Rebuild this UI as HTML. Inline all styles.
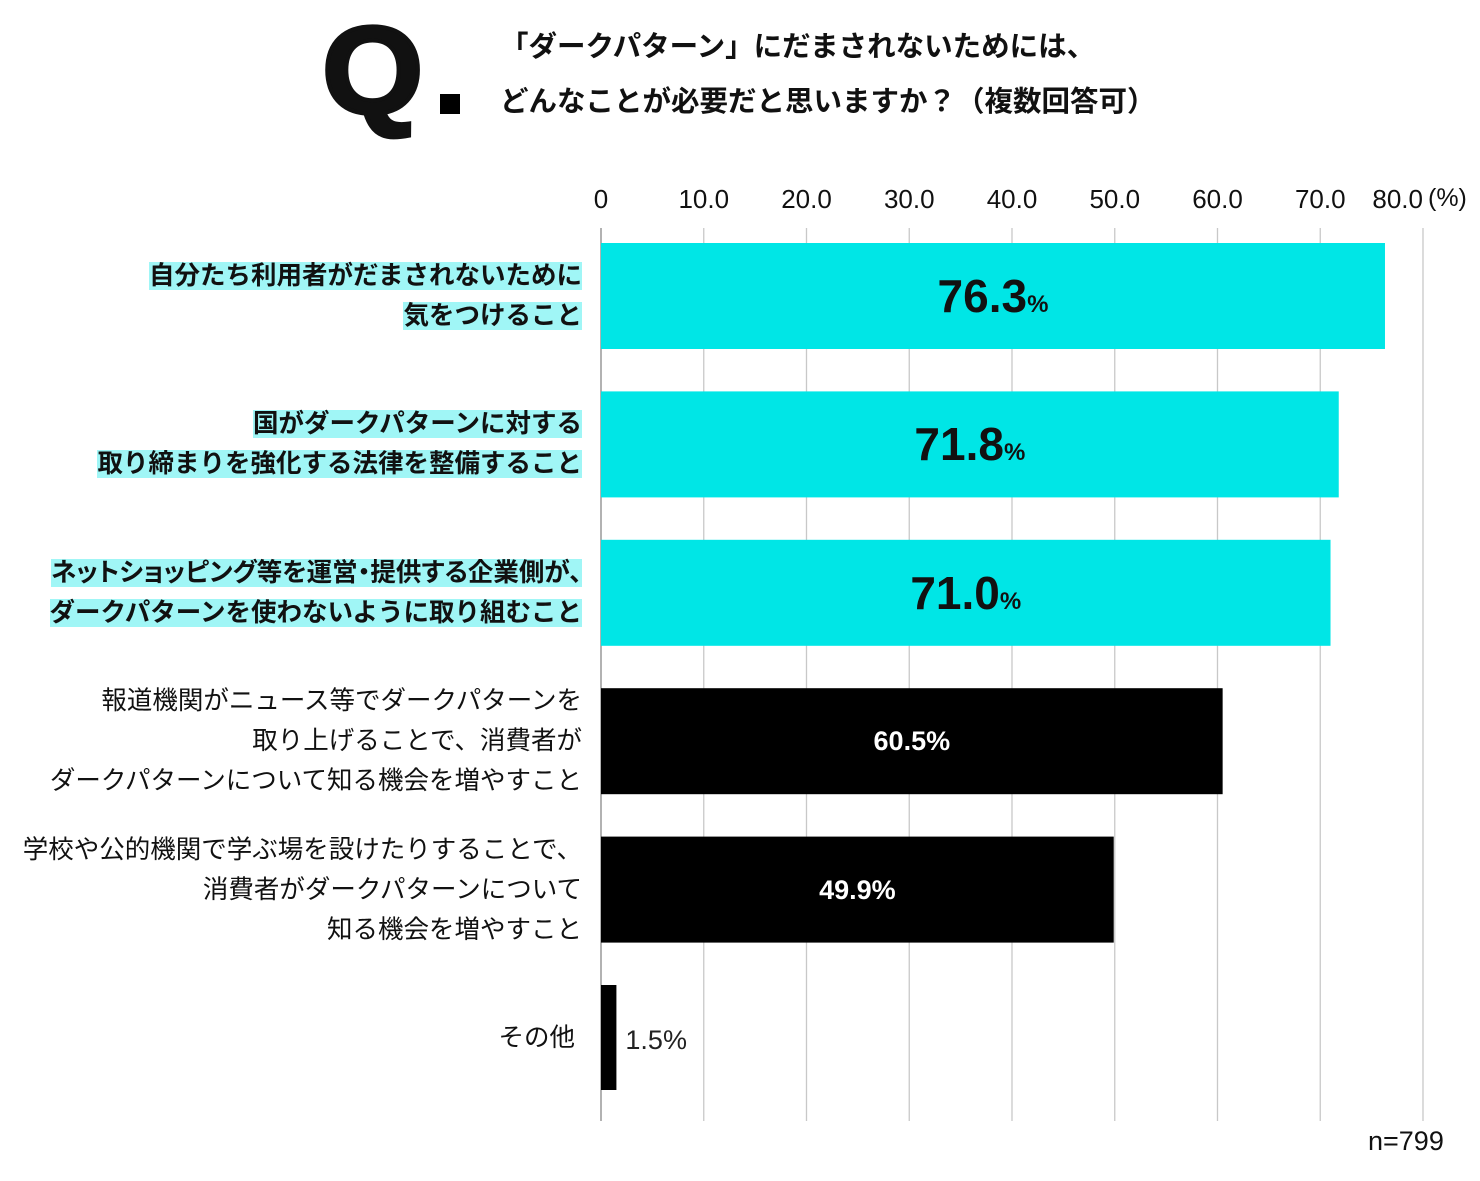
<!DOCTYPE html>
<html><head><meta charset="utf-8">
<style>
body{margin:0;width:1480px;height:1181px;background:#fff;position:relative;overflow:hidden;font-family:"Liberation Sans","Noto Sans CJK JP",sans-serif;color:#111}
.abs{position:absolute}
.lbl{position:absolute;right:898px;text-align:right;font-size:25.5px;line-height:40px;white-space:nowrap}
.hl span{background:#a0f6f6;font-weight:bold}
.tick{position:absolute;top:184px;font-size:26px;transform:translateX(-50%)}
</style></head><body>
<div class="abs" style="left:322px;top:6px;font-size:124px;font-weight:900;line-height:130px;transform:scaleX(1.05);transform-origin:left top;-webkit-text-stroke:4px #111">Q</div>
<div class="abs" style="left:440px;top:94px;width:20px;height:20px;background:#000"></div>
<div class="abs" style="left:500px;top:20px;font-size:28.5px;font-weight:bold;line-height:55px">「ダークパターン」にだまされないためには、<br>どんなことが必要だと思いますか？（複数回答可）</div>
<svg id="chart" class="abs" style="left:0;top:0" width="1480" height="1181"></svg>
<div id="labels"></div>
<div class="abs" style="left:1428px;top:184px;font-size:25px">(%)</div>
<div class="abs" style="left:1368px;top:1126px;font-size:27px">n=799</div>
<script>
const categories=[["自分たち利用者がだまされないために","気をつけること"],["国がダークパターンに対する","取り締まりを強化する法律を整備すること"],["ネットショッピング等を運営・提供する企業側が、","ダークパターンを使わないように取り組むこと"],["報道機関がニュース等でダークパターンを","取り上げることで、消費者が","ダークパターンについて知る機会を増やすこと"],["学校や公的機関で学ぶ場を設けたりすることで、","消費者がダークパターンについて","知る機会を増やすこと"],["その他"]];
const values=[76.3,71.8,71.0,60.5,49.9,1.5];
const ticks=[0,10,20,30,40,50,60,70,80];
const tickLabels=["0","10.0","20.0","30.0","40.0","50.0","60.0","70.0","80.0"];
const x=v=>601+v*(1423-601)/80;
const bandTop=i=>243+i*148.4;
const svg=document.getElementById('chart');const NS='http://www.w3.org/2000/svg';
ticks.forEach((t,i)=>{
 const l=document.createElementNS(NS,'line');
 
 
 l.setAttribute('x1',x(t));l.setAttribute('x2',x(t));l.setAttribute('y1',228);l.setAttribute('y2',1121);
 l.setAttribute('stroke',i==0?'#888':'#c8c8c8');l.setAttribute('stroke-width',1.3);svg.appendChild(l);
 const d=document.createElement('div');d.className='tick';d.style.left=x(t)+'px';d.textContent=tickLabels[i];
 if(i==ticks.length-1)d.style.transform='translateX(-100%)';
 
 
 document.body.appendChild(d);
});
values.forEach((v,i)=>{
 const top=bandTop(i),h=i==5?105:106;
 const r=document.createElementNS(NS,'rect');
 
 
 r.setAttribute('x',x(0));r.setAttribute('y',top);r.setAttribute('width',x(v)-x(0));r.setAttribute('height',h);
 r.setAttribute('fill',i<3?'#00e6e6':'#000');svg.appendChild(r);
 const t=document.createElement('div');t.className='abs';
 
 
 if(i<3){t.innerHTML=v.toFixed(1)+'<span style="font-size:24px">%</span>';t.style.cssText+=`left:${(x(0)+x(v))/2}px;top:${top+26}px;transform:translateX(-50%);font-size:46px;font-weight:bold;color:#111`;}
 else if(i<5){t.textContent=v.toFixed(1)+'%';t.style.cssText+=`left:${(x(0)+x(v))/2}px;top:${top+38}px;transform:translateX(-50%);font-size:27px;font-weight:bold;color:#fff`;}
 else{t.textContent=v.toFixed(1)+'%';t.style.cssText+=`left:${x(v)+9}px;top:${top+40}px;font-size:27px;color:#222`;}
 document.body.appendChild(t);
 const lb=document.createElement('div');lb.className='lbl'+(i<3?' hl':'');
 
 
 const n=categories[i].length;
 lb.style.top=(top+53-n*20)+'px';
 if(i==5)lb.style.right='905px';
 lb.innerHTML=categories[i].map(s=>'<span'+(s.length>22?' style="font-feature-settings:\'palt\'"':'')+'>'+s+'</span>').join('<br>');
 document.body.appendChild(lb);
});
</script>
</body></html>
